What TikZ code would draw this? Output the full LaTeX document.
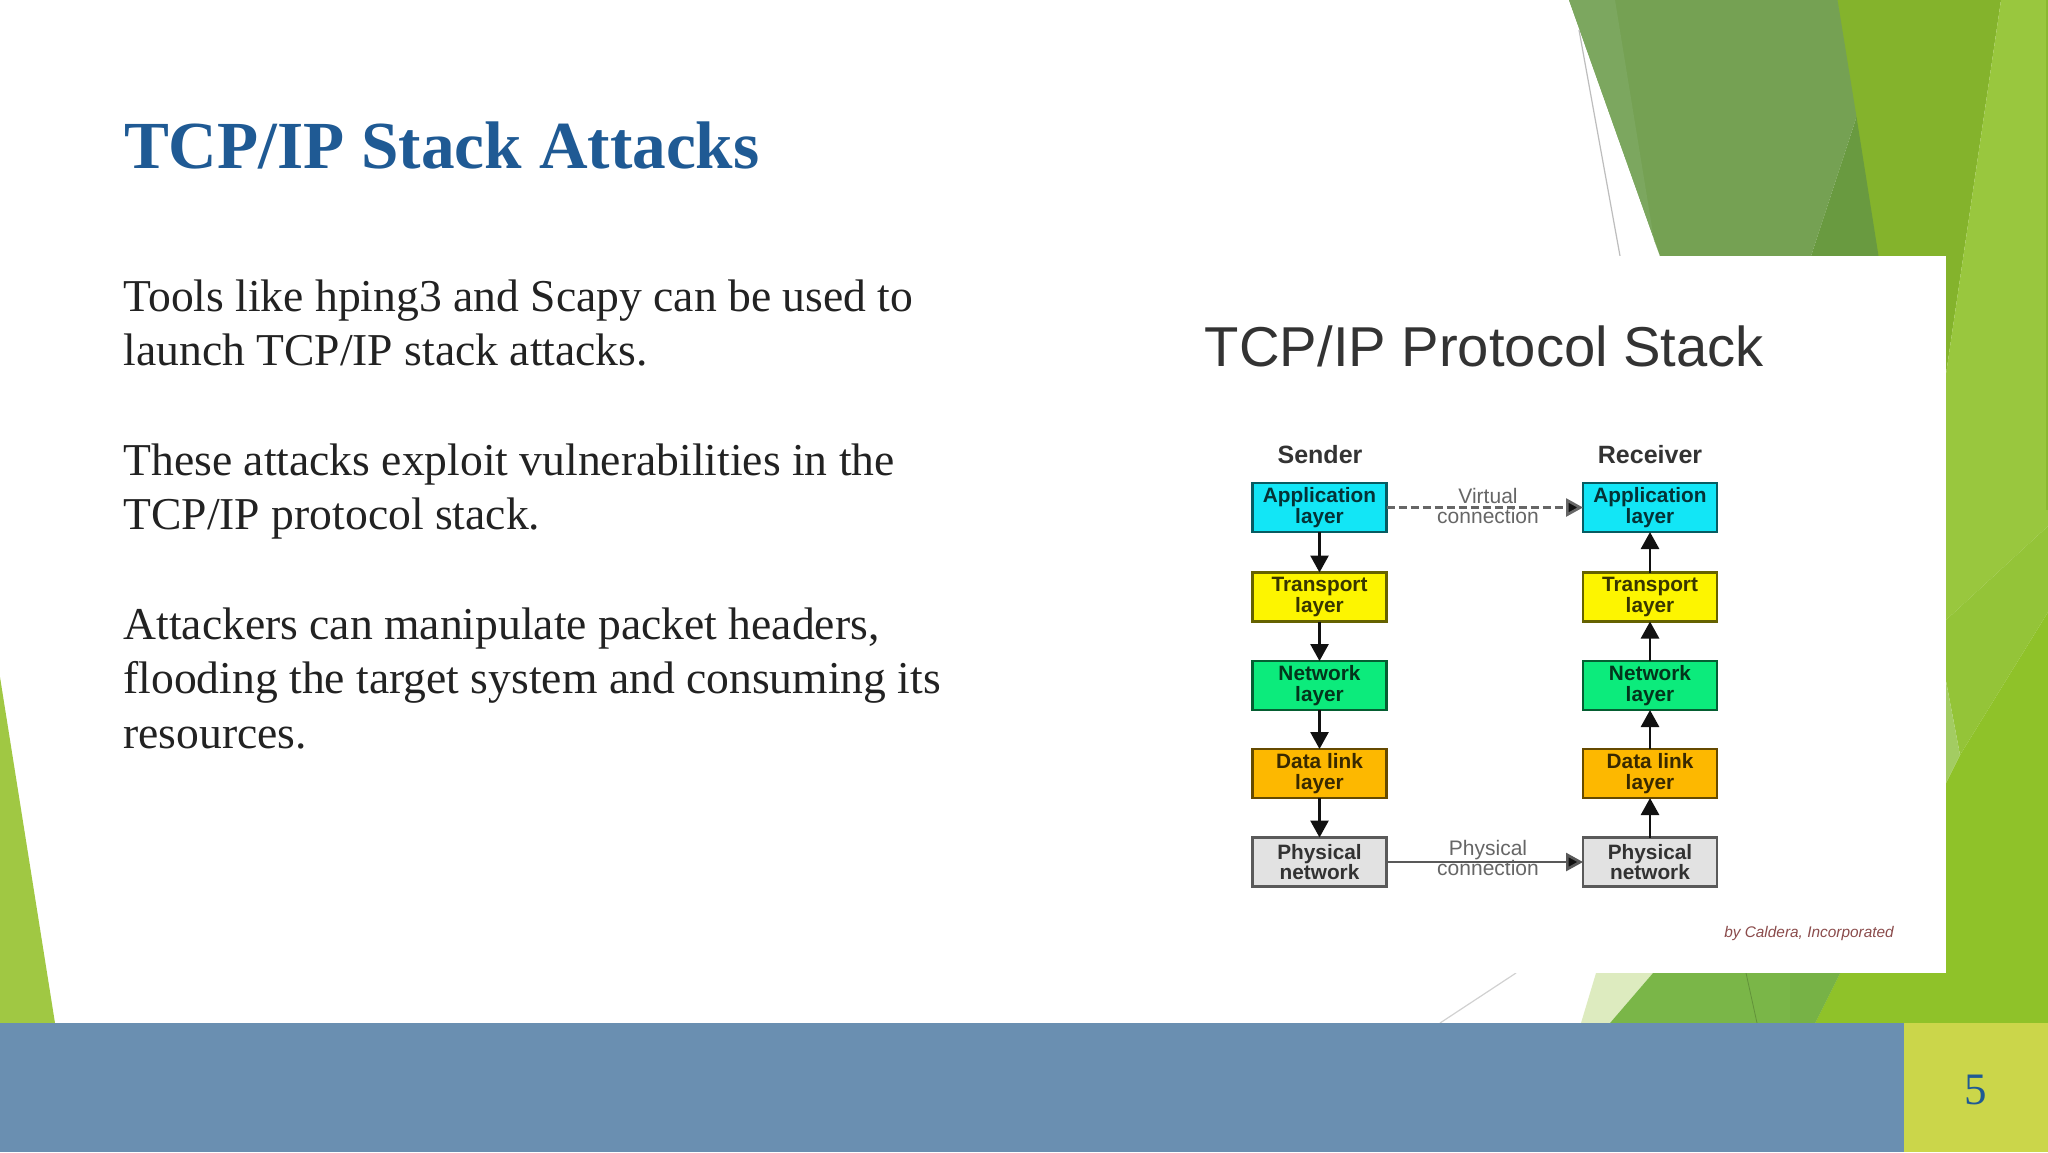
\documentclass[tikz,border=0pt]{standalone}
\usepackage{fontspec}
\setmainfont{Liberation Serif}
\newfontfamily\diagfont{Liberation Sans}
\usetikzlibrary{arrows.meta}
\definecolor{bandblue}{HTML}{6A8FB1}
\definecolor{bandyellow}{HTML}{CBD64A}
\definecolor{titleblue}{HTML}{1F5A94}
\definecolor{bodyink}{HTML}{222222}
\definecolor{leafA}{HTML}{75A153}
\definecolor{leafAlight}{HTML}{7CA75F}
\definecolor{leafAdark}{HTML}{699A40}
\definecolor{leafB}{HTML}{84B32C}
\definecolor{leafC}{HTML}{99C73E}
\definecolor{leafCmid}{HTML}{94C438}
\definecolor{leafD}{HTML}{8FC229}
\definecolor{leafWedge}{HTML}{A3CC62}
\definecolor{leafLeft}{HTML}{A0C843}
\definecolor{leafPale}{HTML}{DDEBBF}
\definecolor{leafMid}{HTML}{7AB648}
\definecolor{leafMidDark}{HTML}{77B246}
\definecolor{hairline}{HTML}{BDBDBD}
\definecolor{arrowink}{HTML}{111111}
\definecolor{greylabel}{HTML}{666666}
\tikzset{
  x=0.5pt,y=-0.5pt,
  every node/.style={inner sep=0pt,outer sep=0pt},
  bodytext/.style={anchor=north west,align=left,text=bodyink,font=\fontsize{22.8}{27.4}\selectfont},
  layerbox/.style={draw=#1!40!black,line width=1.1pt,minimum width=67pt,minimum height=24.5pt,align=center,
    font=\diagfont\bfseries\fontsize{10.4}{10.4}\selectfont,text=#1!22!black,fill=#1},
  headlabel/.style={font=\diagfont\bfseries\fontsize{12.5}{12.5}\selectfont,text=black!80},
  linklabel/.style={align=center,font=\diagfont\fontsize{10.5}{10}\selectfont,text=greylabel},
  flow/.style={draw=arrowink,line width=1.35pt,-{Triangle[length=8.5pt,width=9pt]}},
}
\definecolor{boxcyan}{HTML}{12E6F6}
\definecolor{boxyellow}{HTML}{FDF500}
\definecolor{boxgreen}{HTML}{0CEB7C}
\definecolor{boxamber}{HTML}{FDB800}
\definecolor{boxgrey}{HTML}{E2E2E2}
\begin{document}
\begin{tikzpicture}
\useasboundingbox (0,0) rectangle (2048,1152);
\fill[white] (0,0) rectangle (2048,1152);
% left leaf
\fill[leafLeft] (0,677) -- (55,1023) -- (0,1023) -- cycle;
% top-right leaves
\fill[leafB] (1837,0) -- (2001,0) -- (1946,374) -- (1946,256) -- (1878,256) -- cycle;
\fill[leafC] (2001,0) -- (2048,0) -- (2048,526) -- (1946,620) -- (1946,374) -- cycle;
\fill[leafCmid] (2048,526) -- (2048,612) -- (1960,755) -- (1946,681) -- (1946,620) -- cycle;
\fill[leafD] (2048,612) -- (2048,1023) -- (1815,1023) -- (1840,973) -- (1946,973) -- (1946,783) -- (1960,755) -- cycle;
\fill[leafWedge] (1946,681) -- (1960,755) -- (1946,783) -- cycle;
\fill[leafB!70!leafC] (2046,0) rectangle (2048,510);
\fill[leafA] (1569,0) -- (1837.5,0) -- (1856.5,117) -- (1811,256) -- (1660,256) -- cycle;
\fill[leafAlight] (1569,0) -- (1615,0) -- (1654,240) -- (1660,256) -- cycle;
\fill[leafAdark] (1811,256) -- (1856.5,117) -- (1878.5,256) -- cycle;
\draw[hairline,line width=0.6pt] (1579,30) -- (1620,256);
% lower leaves under the photo
\fill[leafPale] (1596,973) -- (1653,973) -- (1610,1023) -- (1581,1023) -- cycle;
\fill[leafMid] (1653,973) -- (1840,973) -- (1815,1023) -- (1610,1023) -- cycle;
\fill[leafMidDark] (1790,973) -- (1840,973) -- (1815,1023) -- (1790,1023) -- cycle;
\draw[leafMid!80!black,line width=0.4pt] (1746,973) -- (1757,1023);
\draw[hairline!70!white,line width=0.6pt] (1516,973) -- (1440,1023);
% photo panel
\fill[white] (1150,256) rectangle (1945.5,973);
% footer band
\fill[bandblue] (0,1023) rectangle (1904,1152);
\fill[bandyellow] (1904,1023) rectangle (2048,1152);
\node (pagenum) at (1976,1090) {\fontsize{22.5}{22.5}\selectfont\color{titleblue}5};
% slide text
\node[anchor=base west,text=titleblue,font=\bfseries\fontsize{33.65}{33.65}\selectfont] (slidetitle) at (124,168) {TCP/IP Stack Attacks};
\node[bodytext] (para1) at (123.5,279.5) {Tools like hping3 and Scapy can be used to\\launch TCP/IP stack attacks.};
\node[bodytext] (para2) at (123.5,443.5) {These attacks exploit vulnerabilities in the\\TCP/IP protocol stack.};
\node[bodytext] (para3) at (123.5,607.5) {Attackers can manipulate packet headers,\\flooding the target system and consuming its\\resources.};
% embedded figure
\node[font=\diagfont\fontsize{28.1}{28.1}\selectfont,text=black!80] (figtitle) at (1484.5,346) {TCP/IP Protocol Stack};
\node[headlabel] (sender) at (1320,455) {Sender};
\node[headlabel] (receiver) at (1650,455) {Receiver};
\foreach \nm/\cx in {s/1319.5,r/1650}{
  \node[layerbox=boxcyan]   (\nm1) at (\cx,507.5) {Application\\layer};
  \node[layerbox=boxyellow] (\nm2) at (\cx,597)   {Transport\\layer};
  \node[layerbox=boxgreen]  (\nm3) at (\cx,685.5) {Network\\layer};
  \node[layerbox=boxamber]  (\nm4) at (\cx,773.5) {Data link\\layer};
  \node[layerbox=boxgrey]   (\nm5) at (\cx,862)   {Physical\\network};
}
\draw[flow] (s1) -- (s2);
\draw[flow] (s2) -- (s3);
\draw[flow] (s3) -- (s4);
\draw[flow] (s4) -- (s5);
\draw[flow] (r5) -- (r4);
\draw[flow] (r4) -- (r3);
\draw[flow] (r3) -- (r2);
\draw[flow] (r2) -- (r1);
\draw[flow,draw=greylabel,dash pattern=on 4pt off 2pt,-{Triangle[length=8.5pt,width=9pt,fill=arrowink]}] (s1) -- (r1);
\draw[flow,draw=black!65,-{Triangle[length=8.5pt,width=9pt,fill=arrowink]}] (s5) -- (r5);
\node[linklabel] (virtlabel) at (1488,505.5) {Virtual\\connection};
\node[linklabel] (phylabel) at (1488,858) {Physical\\connection};
\node[font=\diagfont\itshape\fontsize{7.7}{7.7}\selectfont,text=red!35!black!70] (credit) at (1809,933) {by Caldera, Incorporated};
\end{tikzpicture}
\end{document}
